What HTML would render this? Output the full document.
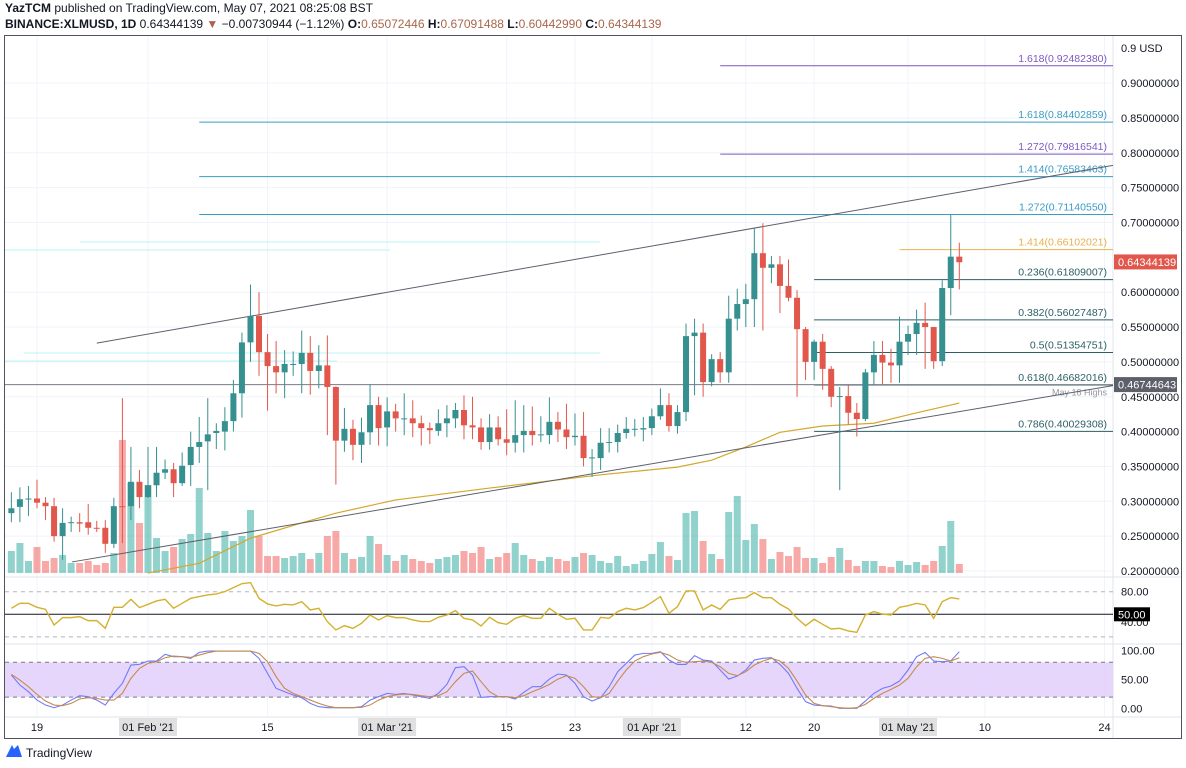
<!DOCTYPE html>
<html><head><meta charset="utf-8">
<style>
html,body{margin:0;padding:0;background:#fff;}
body{width:1186px;height:768px;position:relative;overflow:hidden;font-family:"Liberation Sans",sans-serif;}
#hdr1{position:absolute;left:5px;top:1px;font-size:12px;color:#131722;}
#hdr2{position:absolute;left:5px;top:17px;font-size:12px;color:#131722;}
.v{color:#a9664c;}
svg{position:absolute;left:0;top:0;}
</style></head>
<body>
<div id="hdr1"><b>YazTCM</b> published on TradingView.com, May 07, 2021 08:25:08 BST</div>
<div id="hdr2"><b>BINANCE:XLMUSD, 1D</b> 0.64344139 <span class="v">▼</span> −0.00730944 (−1.12%) <b>O:</b><span class="v">0.65072446</span> <b>H:</b><span class="v">0.67091488</span> <b>L:</b><span class="v">0.60442990</span> <b>C:</b><span class="v">0.64344139</span></div>
<svg id="chart" width="1186" height="768" xmlns="http://www.w3.org/2000/svg">
<defs><clipPath id="cp"><rect x="5" y="36" width="1108" height="702"/></clipPath></defs>
<g id="grid"></g>
<rect x="5" y="662.3" width="1108" height="34.8" fill="#e1ccfb" opacity="0.8"/>
<g id="marks" clip-path="url(#cp)"></g>
<g id="axes"></g>
<rect x="4.5" y="35.5" width="1177" height="703" fill="none" stroke="#50535e" stroke-width="1"/>
<g>
<path d="M6 757 L12 745 L14 749 L18 745 L22 757 Z" fill="#2962ff"/>
<text x="26" y="757" font-size="12" fill="#131722" font-family="Liberation Sans, sans-serif">TradingView</text>
</g>
</svg>
<script>
const opens=[.283,.292,.303,.304,.298,.293,.250,.269,.270,.270,.262,.262,.239,.293,.293,.328,.306,.323,.341,.346,.326,.352,.378,.386,.398,.400,.415,.455,.528,.566,.514,.494,.485,.497,.497,.513,.487,.495,.464,.387,.404,.381,.399,.438,.406,.429,.419,.419,.412,.405,.401,.412,.419,.431,.409,.406,.385,.406,.389,.384,.395,.401,.395,.395,.414,.403,.392,.394,.362,.362,.384,.385,.398,.404,.403,.405,.422,.438,.408,.428,.537,.542,.471,.504,.485,.562,.583,.590,.656,.635,.640,.609,.592,.547,.500,.529,.490,.450,.451,.427,.418,.485,.510,.499,.495,.529,.540,.556,.550,.501,.606,.651];
const highs=[.313,.320,.322,.331,.306,.305,.290,.278,.283,.296,.272,.273,.305,.448,.378,.345,.378,.378,.360,.355,.370,.400,.421,.448,.412,.435,.474,.542,.611,.600,.540,.530,.517,.515,.545,.537,.524,.538,.465,.434,.417,.420,.468,.450,.449,.440,.455,.445,.423,.413,.432,.438,.441,.452,.450,.419,.425,.422,.432,.445,.438,.436,.422,.449,.428,.440,.426,.428,.375,.405,.405,.410,.421,.418,.421,.433,.462,.455,.438,.555,.562,.555,.511,.514,.595,.605,.612,.692,.699,.652,.652,.647,.603,.550,.532,.540,.494,.464,.466,.441,.490,.530,.530,.519,.565,.552,.575,.585,.550,.617,.711,.671];
const lows=[.270,.270,.279,.290,.273,.242,.216,.256,.256,.252,.256,.226,.233,.240,.273,.290,.305,.306,.332,.306,.322,.322,.355,.316,.375,.373,.400,.420,.500,.480,.430,.455,.448,.480,.455,.453,.462,.395,.324,.371,.359,.355,.381,.380,.379,.400,.395,.392,.380,.382,.394,.392,.405,.389,.389,.374,.374,.380,.366,.370,.370,.380,.385,.382,.385,.375,.380,.350,.335,.345,.370,.370,.390,.393,.386,.395,.417,.400,.397,.415,.452,.450,.465,.470,.470,.545,.550,.550,.545,.613,.570,.587,.450,.474,.474,.460,.435,.316,.410,.393,.415,.467,.467,.470,.470,.510,.510,.490,.490,.494,.567,.604];
const closes=[.290,.303,.304,.298,.293,.250,.269,.270,.268,.262,.261,.239,.293,.292,.328,.306,.323,.341,.346,.326,.351,.378,.385,.396,.401,.415,.455,.528,.566,.514,.494,.485,.497,.497,.513,.487,.495,.464,.387,.404,.381,.399,.438,.405,.429,.419,.419,.412,.405,.402,.412,.419,.431,.409,.406,.385,.406,.389,.384,.395,.401,.395,.396,.414,.403,.392,.394,.362,.363,.384,.385,.398,.404,.404,.405,.422,.438,.408,.428,.537,.542,.471,.504,.485,.562,.583,.590,.656,.635,.640,.609,.592,.547,.500,.529,.490,.450,.451,.427,.418,.485,.510,.499,.495,.529,.540,.556,.550,.501,.606,.651,.643];
const volumes=[22,30,12,26,12,15,18,10,10,12,8,10,20,133,90,50,88,35,22,26,34,39,85,40,22,42,32,37,63,37,17,17,15,17,20,14,20,37,42,20,14,16,37,29,18,12,18,14,12,10,14,16,18,22,20,26,14,16,20,30,18,14,12,16,14,12,16,20,18,12,10,17,7,9,12,19,31,17,13,60,62,32,19,14,61,77,33,49,34,14,21,17,26,15,15,10,16,25,13,7,12,12,7,6,12,8,11,8,12,27,52,9];
const rsiValues=[58.0,64.6,64.6,59.3,56.6,35.8,45.6,45.6,46.9,41.6,41.6,31.4,59.3,59.3,69.9,58.9,63.3,67.7,69.9,58.0,64.6,71.2,73.5,75.7,77.0,80.1,85.4,90.7,92.1,71.2,63.7,61.1,63.3,62.4,66.8,55.8,58.0,40.3,29.2,34.9,31.4,38.0,49.1,42.5,48.2,45.6,45.6,42.5,40.3,40.3,46.0,49.1,54.9,44.7,42.5,34.5,46.0,38.9,
36.7,44.7,48.2,44.7,44.7,58.0,50.0,43.4,44.7,29.2,29.2,46.0,44.7,53.5,58.0,55.8,58.9,65.9,73.5,51.3,60.2,81.0,81.0,55.8,62.4,56.6,69.0,71.2,72.1,78.8,72.1,72.1,63.3,57.1,44.7,34.9,43.4,36.7,30.5,31.4,27.9,26.1,49.1,53.5,50.4,49.1,59.3,61.5,64.6,62.4,44.7,66.8,72.1,70.4];
const stochK=[58.0,40.8,29.3,14.9,6.3,1.7,6.3,14.9,22.4,20.7,14.9,6.3,26.4,43.7,75.3,76.4,82.2,82.2,93.7,89.7,89.7,86.8,97.1,99.4,99.4,99.4,99.4,99.4,99.4,86.8,60.9,35.1,29.3,23.6,19.0,9.2,3.4,1.7,1.7,1.7,1.7,3.4,14.9,20.7,26.4,24.7,26.4,23.6,20.7,17.8,26.4,42.0,70.7,72.4,58.0,19.5,20.7,20.7,
20.7,16.7,28.2,37.9,37.9,51.1,59.8,58.0,43.7,20.7,13.2,19.0,37.9,63.8,78.2,92.5,95.4,95.4,98.3,83.9,76.4,76.4,91.4,83.9,82.2,66.7,51.1,56.3,66.7,83.9,86.8,87.9,76.4,60.9,35.1,12.1,6.3,5.2,4.6,0.6,0.6,0.6,13.2,26.4,35.1,39.1,47.7,66.7,89.7,97.1,82.2,81.0,82.2,98.3];
const stochD=[59.2,49.4,37.9,24.7,13.2,6.3,5.2,9.2,16.7,19.0,17.8,14.9,14.9,26.4,52.3,69.5,78.2,81.0,87.9,90.8,89.7,88.5,92.5,96.6,99.4,99.4,99.4,99.4,99.4,95.4,81.0,55.2,35.1,26.4,20.7,14.9,9.2,4.6,1.7,1.7,1.7,2.3,6.3,14.9,20.7,23.6,25.3,24.7,22.4,20.7,22.4,29.3,46.6,60.9,64.9,46.6,29.3,20.7,
20.7,19.0,22.4,29.3,35.1,42.0,51.1,56.9,52.3,37.9,20.7,19.0,26.4,47.7,66.7,82.2,89.7,94.3,97.1,92.5,83.9,79.9,81.0,82.2,79.9,72.4,60.9,56.9,63.8,75.3,82.2,86.8,82.2,69.5,47.7,23.6,9.2,5.2,3.4,1.7,0.6,1.7,7.5,17.8,26.4,33.3,40.8,52.3,72.4,86.8,89.7,86.8,82.2,87.9];
const maDays=[0,6,12,18,22,29,40,53,62,66,70,74,79,85,90,95];
const maValues=[0.197,0.211,0.247,0.269,0.283,0.302,0.319,0.338,0.349,0.359,0.378,0.399,0.408,0.412,0.427,0.441];
const priceTicks=[0.90,0.85,0.80,0.75,0.70,0.60,0.55,0.50,0.45,0.40,0.35,0.30,0.25,0.20];
const dateTickDays=[-13,0,14,28,42,50,59,70,78,89,98,112];
const dateTickLabels=["19","01 Feb '21","15","01 Mar '21","15","23","01 Apr '21","12","20","01 May '21","10","24"];
const fibPrices=[0.92482380,0.84402859,0.79816541,0.76583463,0.71140550,0.66102021,0.61809007,0.56027487,0.51354751,0.46682016,0.40029308];
const fibRatios=["1.618","1.618","1.272","1.414","1.272","1.414","0.236","0.382","0.5","0.618","0.786"];
const fibStartDays=[67,6,67,6,6,88,78,78,78,78,78];
const fibColors=["#7e57c2","#3a9bc4","#7e57c2","#3a9bc4","#3a9bc4","#e8b04b","#2c5f66","#2c5f66","#2c5f66","#2c5f66","#2c5f66"];
const trendDays=[[-6,113],[-8.9,113]];
const trendPrices=[[0.527,0.782],[0.213,0.466]];

const NS="http://www.w3.org/2000/svg";
const START=-16;
function xOf(d){return 148+8.54*d;}
function yP(p){return 571-(p-0.2)*697;}
function yVol(v){return 573-v;}
function yRsi(v){return 614.3-(v-50)*0.753;}
function yStoch(v){return 708.7-v*0.58;}
function mk(tag,attrs,parent){const e=document.createElementNS(NS,tag);for(const k in attrs)e.setAttribute(k,attrs[k]);parent.appendChild(e);return e;}
const grid=document.getElementById('grid'),marks=document.getElementById('marks'),axes=document.getElementById('axes');
const F="Liberation Sans, sans-serif";

// grid
priceTicks.forEach(p=>{const l=mk('line',{x1:5,x2:1113,y1:yP(p),y2:yP(p),stroke:'#f0f3fa'},grid);

});
dateTickDays.forEach(d=>{const l=mk('line',{x1:xOf(d),x2:xOf(d),y1:36,y2:717,stroke:'#f0f3fa'},grid);

});
[577,644,717].forEach(y=>{const l=mk('line',{x1:5,x2:1181,y1:y,y2:y,stroke:'#e0e3eb'},grid);

});
mk('line',{x1:1113,x2:1113,y1:36,y2:738,stroke:'#e0e3eb'},grid);

// ghost faint lines
[[80,600,242],[0,390,250],[24,600,353],[0,337,361]].forEach(g=>{const l=mk('line',{x1:g[0],x2:g[1],y1:g[2],y2:g[2],stroke:'#9ff0f5','stroke-width':1,opacity:0.7},marks);

});

// volume
volumes.forEach((v,i)=>{const d=START+i;const up=closes[i]>=opens[i];
const r=mk('rect',{x:xOf(d)-3.5,y:yVol(v),width:7,height:v,fill:up?'rgba(38,166,154,0.5)':'rgba(239,83,80,0.5)'},marks);

});

// fib levels
fibPrices.forEach((p,i)=>{const y=yP(p);
const l=mk('line',{x1:xOf(fibStartDays[i]),x2:1113,y1:y,y2:y,stroke:fibColors[i],'stroke-width':1},marks);


const t=mk('text',{x:1107,y:y-4,'text-anchor':'end','font-size':10.5,fill:fibColors[i],'font-family':F},marks);
t.textContent=fibRatios[i]+'('+p.toFixed(8)+')';

});
// horizontal may 18 line
{const y=yP(0.46744643);const l=mk('line',{x1:5,x2:1113,y1:y,y2:y,stroke:'#787b86','stroke-width':1},marks);


const t=mk('text',{x:1107,y:y+11,'text-anchor':'end','font-size':9,fill:'#9598a1','font-family':F},marks);t.textContent='May 18 Highs';

}

// MA
{let pts=maDays.map((d,i)=>xOf(d)+','+yP(maValues[i])).join(' ');
const pl=mk('polyline',{points:pts,fill:'none',stroke:'#d4a72c','stroke-width':1.2},marks);

}

// trend lines
trendDays.forEach((td,i)=>{const l=mk('line',{x1:xOf(td[0]),x2:xOf(td[1]),y1:yP(trendPrices[i][0]),y2:yP(trendPrices[i][1]),stroke:'#5d606b','stroke-width':1},marks);

});

// candles
opens.forEach((o,i)=>{const d=START+i,c=closes[i],x=xOf(d);const up=c>=o;const col=up?'#36908f':'#e2574c';
const w=mk('line',{x1:x,x2:x,y1:yP(highs[i]),y2:yP(lows[i]),stroke:col,'stroke-width':1},marks);


const top=yP(Math.max(o,c)),bot=yP(Math.min(o,c));
const b=mk('rect',{x:x-3,y:top,width:6,height:Math.max(1,bot-top),fill:col},marks);

});

// RSI
[[80,'4 4','#b2b5be'],[20,'4 4','#b2b5be'],[50,'','#131722']].forEach(a=>{const l=mk('line',{x1:5,x2:1113,y1:yRsi(a[0]),y2:yRsi(a[0]),stroke:a[2],'stroke-dasharray':a[1]},marks);

});
{const pl=mk('polyline',{points:rsiValues.map((v,i)=>xOf(START+i)+','+yRsi(v)).join(' '),fill:'none',stroke:'#d4b02e','stroke-width':1.4},marks);

}
// Stoch
[80,20].forEach(v=>{const l=mk('line',{x1:5,x2:1113,y1:yStoch(v),y2:yStoch(v),stroke:'#787b86','stroke-dasharray':'4 4'},marks);

});
{const pl=mk('polyline',{points:stochK.map((v,i)=>xOf(START+i)+','+yStoch(v)).join(' '),fill:'none',stroke:'#6f7bf7','stroke-width':1.1},marks);


const p2=mk('polyline',{points:stochD.map((v,i)=>xOf(START+i)+','+yStoch(v)).join(' '),fill:'none',stroke:'#c58a4f','stroke-width':1.1},marks);

}

// price axis labels
priceTicks.forEach(p=>{const t=mk('text',{x:1121,y:yP(p)+4,'font-size':11,fill:'#131722','font-family':F},axes);t.textContent=p.toFixed(8);

});
{const t=mk('text',{x:1121,y:52,'font-size':11,fill:'#131722','font-family':F},axes);t.textContent='0.9 USD';

}
function box(p,bg,name){const y=yP(p);mk('rect',{x:1114,y:y-7.5,width:63,height:15,fill:bg},axes);
const t=mk('text',{x:1118,y:y+4,'font-size':11,fill:'#fff','font-family':F},axes);t.textContent=p.toFixed(8);

}
box(0.64344139,'#e2574c','last-price-label');
box(0.46744643,'#5d606b','may-18-price-label');
[[80,'80.00'],[40,'40.00']].forEach(a=>{const t=mk('text',{x:1121,y:yRsi(a[0])+4,'font-size':11,fill:'#131722','font-family':F},axes);t.textContent=a[1];

});
mk('rect',{x:1114,y:yRsi(50)-7,width:36,height:14,fill:'#000'},axes);
{const t=mk('text',{x:1118,y:yRsi(50)+4,'font-size':11,fill:'#fff','font-family':F},axes);t.textContent='50.00';

}
[[100,'100.00'],[50,'50.00'],[0,'0.00']].forEach(a=>{const t=mk('text',{x:1121,y:yStoch(a[0])+4,'font-size':11,fill:'#131722','font-family':F},axes);t.textContent=a[1];

});

// date labels
dateTickDays.forEach((d,i)=>{const x=xOf(d);const lab=dateTickLabels[i];
if(lab.length>3){mk('rect',{x:x-29,y:718,width:58,height:18,fill:'#e0e0e0'},axes);}
const t=mk('text',{x:x,y:731,'text-anchor':'middle','font-size':11,fill:'#131722','font-family':F},axes);t.textContent=lab;

});
</script>
</body></html>
